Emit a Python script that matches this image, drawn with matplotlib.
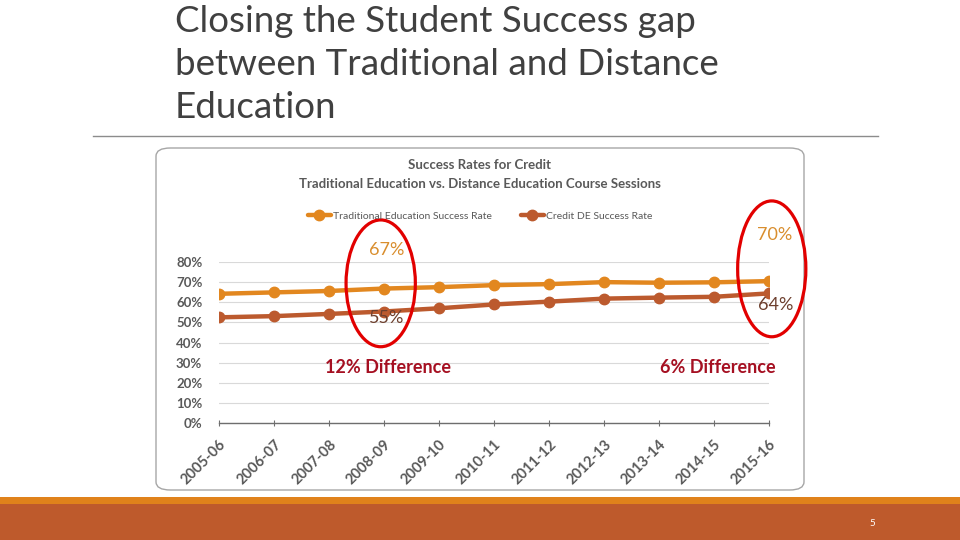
import matplotlib
matplotlib.use("Agg")
import matplotlib.pyplot as plt
from matplotlib.patches import Ellipse, FancyBboxPatch, Rectangle
from matplotlib.lines import Line2D

plt.rcParams['font.family'] = ['Lato', 'DejaVu Sans']

# data
years = ['2005-06', '2006-07', '2007-08', '2008-09', '2009-10', '2010-11',
         '2011-12', '2012-13', '2013-14', '2014-15', '2015-16']
trad = [64.2, 64.9, 65.6, 66.8, 67.5, 68.5, 69.0, 70.0, 69.7, 69.9, 70.5]
de = [52.5, 53.1, 54.2, 55.4, 57.0, 58.9, 60.3, 61.8, 62.3, 62.7, 64.4]
yticks = [0, 10, 20, 30, 40, 50, 60, 70, 80]

orange = '#E2871F'
brown = '#BC5A2E'
grey = '#595959'

W, H = 960, 540
fig = plt.figure(figsize=(9.6, 5.4), dpi=100)

def fx(px):
    return px / W

def fy(py):
    return 1 - py / H

# slide title
title_lines = ['Closing the Student Success gap',
               'between Traditional and Distance',
               'Education']
for i, line in enumerate(title_lines):
    fig.text(fx(175), fy(32 + 43 * i), line, fontsize=26.5, color='#404040',
             va='baseline', ha='left')
fig.add_artist(Line2D([fx(93), fx(878)], [fy(136), fy(136)], color='#8C8C8C', lw=1))

# chart frame
frame = FancyBboxPatch((fx(156), fy(490)), fx(804) - fx(156), fy(148) - fy(490),
                       boxstyle='round,pad=0,rounding_size=0.015',
                       transform=fig.transFigure, fc='white', ec='#A6A6A6', lw=1, zorder=-1)
fig.add_artist(frame)

# bottom band
fig.add_artist(Rectangle((0, fy(504)), 1, fy(497) - fy(504), transform=fig.transFigure,
                         fc='#E0821B', ec='none'))
fig.add_artist(Rectangle((0, 0), 1, fy(504), transform=fig.transFigure,
                         fc='#BE5A2C', ec='none'))
fig.text(fx(872), fy(524), '5', color='white', fontsize=7, ha='center', va='center')

# chart titles
fig.text(0.5, fy(165), 'Success Rates for Credit', ha='center', va='center',
         fontsize=9.5, fontweight='bold', color=grey)
fig.text(0.5, fy(184), 'Traditional Education vs. Distance Education Course Sessions',
         ha='center', va='center', fontsize=9.5, fontweight='bold', color=grey)

ax = fig.add_axes([fx(219), fy(423), fx(769) - fx(219), fy(262) - fy(423)], zorder=2)
x = list(range(len(years)))
ax.plot(x, trad, color=orange, lw=3.2, marker='o', ms=7.5, label='Traditional Education Success Rate',
        solid_capstyle='round', zorder=3)
ax.plot(x, de, color=brown, lw=3.2, marker='o', ms=7.5, label='Credit DE Success Rate',
        solid_capstyle='round', zorder=3)

ax.set_xlim(0, len(years) - 1)
ax.set_ylim(0, 80)
ax.set_yticks(yticks)
ax.set_yticklabels([f'{v}%' for v in yticks], fontsize=9.5, fontweight='bold', color=grey)
ax.set_xticks(x)
ax.set_xticklabels(years, rotation=45, ha='right', va='top', rotation_mode='anchor',
                   fontsize=10.5, fontweight='bold', color=grey)
ax.grid(axis='y', color='#D9D9D9', lw=0.8)
ax.set_axisbelow(True)
for s in ['top', 'right', 'left']:
    ax.spines[s].set_visible(False)
ax.spines['bottom'].set_color('#6E6E6E')
ax.spines['bottom'].set_linewidth(1)
ax.tick_params(axis='y', length=0, pad=12)
ax.tick_params(axis='x', direction='inout', length=5, color='#6E6E6E', pad=8)
ax.patch.set_alpha(0)

# legend
fig.legend(loc='center', bbox_to_anchor=(0.5, fy(216)), ncol=2, frameon=False,
           fontsize=7.5, labelcolor=grey, handlelength=2.2, handletextpad=0.2,
           columnspacing=2.8, markerscale=1.0)

# data labels
ax.annotate('67%', (3, trad[3]), xytext=(2, 28), textcoords='offset points',
            ha='center', va='center', fontsize=13, color='#D98E2E')
ax.annotate('55%', (3, de[3]), xytext=(2, -5), textcoords='offset points',
            ha='center', va='center', fontsize=13, color='#6D3F2E')
ax.annotate('70%', (10, trad[10]), xytext=(4, 33), textcoords='offset points',
            ha='center', va='center', fontsize=13, color='#D98E2E', annotation_clip=False)
ax.annotate('64%', (10, de[10]), xytext=(5, -8), textcoords='offset points',
            ha='center', va='center', fontsize=13, color='#6D3F2E', annotation_clip=False)

# difference callouts
ax.text(3.07, 27.4, '12% Difference', ha='center', va='center', fontsize=13,
        fontweight='bold', color='#A50F21')
ax.text(9.07, 27.4, '6% Difference', ha='center', va='center', fontsize=13,
        fontweight='bold', color='#A50F21')

# red circles
ax.add_patch(Ellipse((2.94, 69.4), 1.26, 63, fill=False, ec='#E20000', lw=2.3,
                     clip_on=False, zorder=5))
ax.add_patch(Ellipse((10.05, 76.6), 1.24, 67.5, fill=False, ec='#E20000', lw=2.3,
                     clip_on=False, zorder=5))

fig.savefig('out.png', dpi=100)
